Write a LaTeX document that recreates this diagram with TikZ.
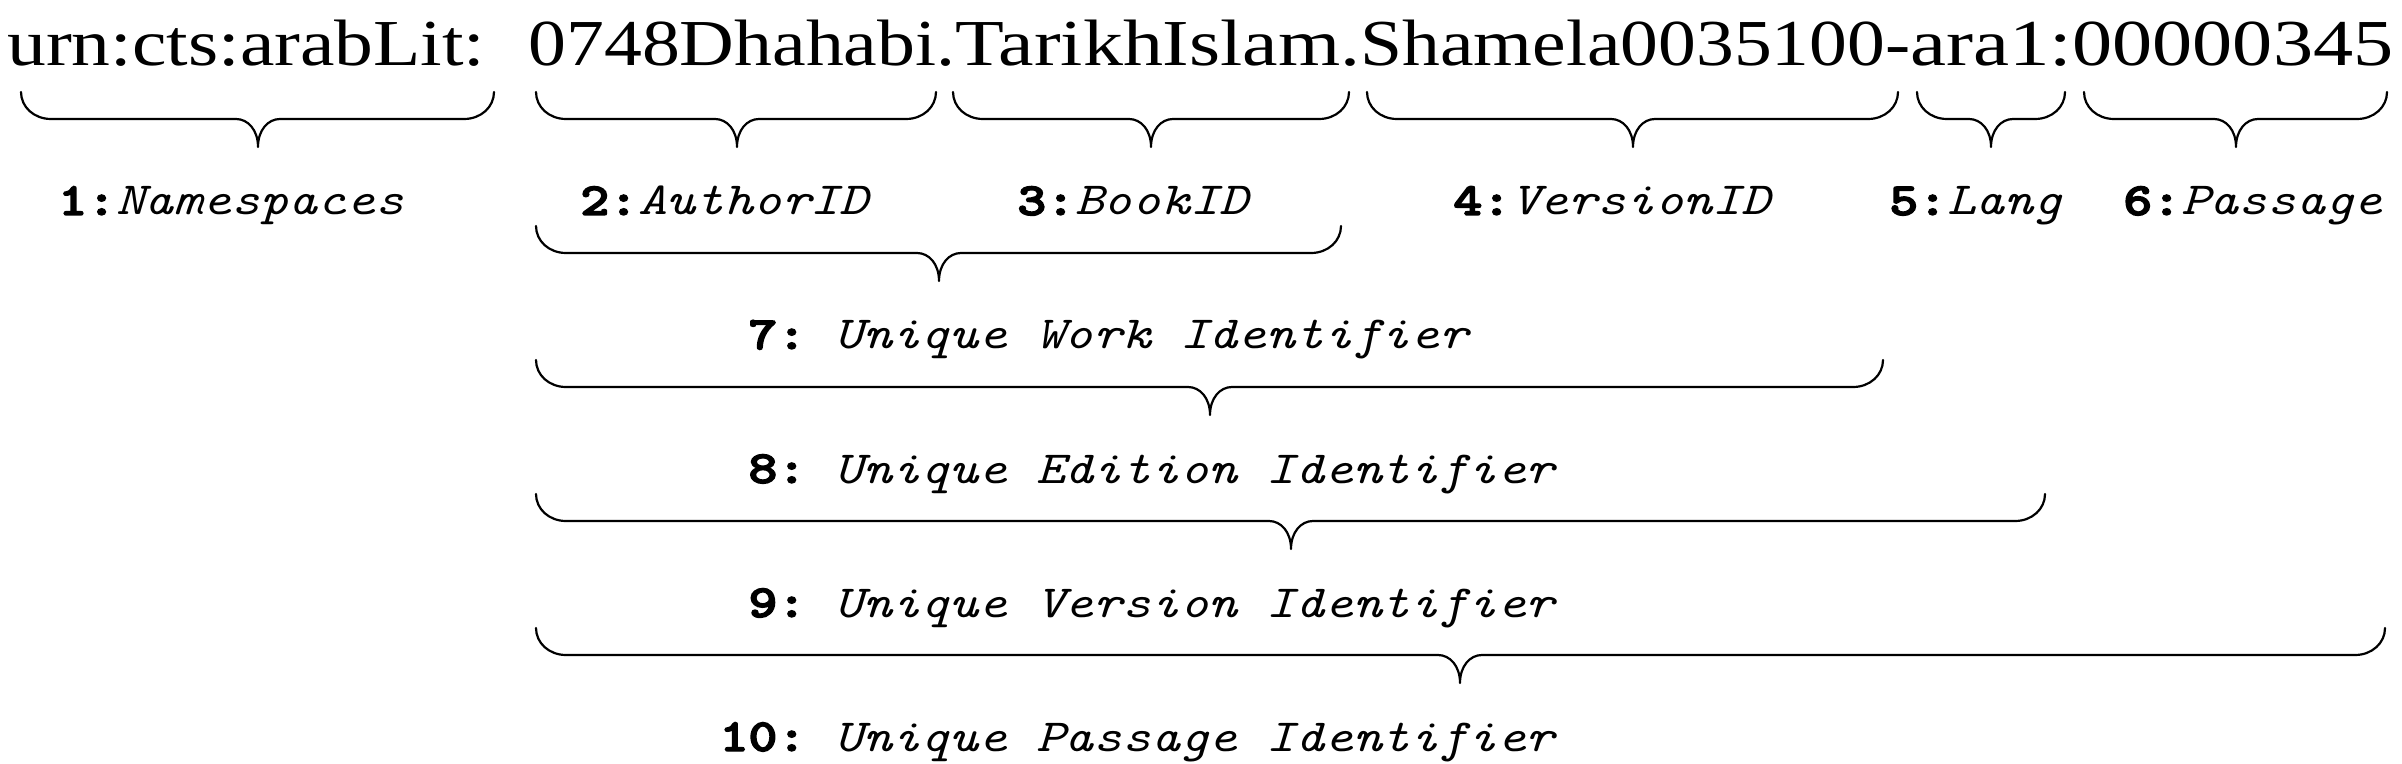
\documentclass[tikz,border=0pt]{standalone}
\usepackage{fontspec}
\usepackage{graphicx}
\setmainfont{Liberation Serif}
\newfontface\ttboldface{lmmonolt10-bold.otf}[FakeBold=3]
% #1 left x, #2 right x, #3 top y, #4 tip x  (units: px of the reference)
\newcommand\drawbrace[4]{%
  \draw[bracestyle] (#1,#3) .. controls (#1,#3+15) and (#1+13,#3+27) .. (#1+30,#3+27)
    -- (#4-22,#3+27) .. controls (#4-10,#3+27) and (#4,#3+38) .. (#4,#3+55)
    .. controls (#4,#3+38) and (#4+10,#3+27) .. (#4+22,#3+27)
    -- (#2-30,#3+27) .. controls (#2-13,#3+27) and (#2,#3+15) .. (#2,#3);}
\newcommand\segtext[2]{\resizebox{#1pt}{\height}{#2}}
\newcommand\labtext[1]{\scalebox{1.193}[1]{#1}}
\newcommand\bnum[1]{{\ttboldface #1}}
\begin{document}
\begin{tikzpicture}[x=0.5pt,y=-0.5pt,
  bracestyle/.style={line width=1.1pt,line join=round,line cap=round},
  titletext/.style={anchor=base west,inner sep=0pt,font=\fontsize{32.8}{36}\selectfont},
  lab/.style={anchor=base west,inner sep=0pt,font=\fontsize{23}{27}\selectfont\ttfamily}]
\useasboundingbox (0,0) rectangle (2402,764);
% title segments
\node[titletext] (t1) at (7,66)    {\segtext{239}{urn:cts:arabLit:}};
\node[titletext] (t2) at (528,66)  {\segtext{213.5}{0748Dhahabi.}};
\node[titletext] (t3) at (955,66)  {\segtext{202.5}{TarikhIslam.}};
\node[titletext] (t4) at (1360,66) {\segtext{275}{Shamela0035100-}};
\node[titletext] (t5) at (1910,66) {\segtext{81}{ara1:}};
\node[titletext] (t6) at (2072,66) {\segtext{160.5}{00000345}};
% first-level braces
\drawbrace{21}{494}{92}{258}
\drawbrace{536}{936}{92}{737}
\drawbrace{953}{1349}{92}{1151}
\drawbrace{1367}{1898}{92}{1633}
\drawbrace{1917}{2065}{92}{1991}
\drawbrace{2084}{2387}{92}{2236}
% first-level labels
\node[lab] (l1) at (58,215)   {\labtext{\bnum{1:}\textit{Namespaces}}};
\node[lab] (l2) at (580,215)  {\labtext{\bnum{2:}\textit{AuthorID}}};
\node[lab] (l3) at (1017,215) {\labtext{\bnum{3:}\textit{BookID}}};
\node[lab] (l4) at (1453,215) {\labtext{\bnum{4:}\textit{VersionID}}};
\node[lab] (l5) at (1889,215) {\labtext{\bnum{5:}\textit{Lang}}};
\node[lab] (l6) at (2123,215) {\labtext{\bnum{6:}\textit{Passage}}};
% nested braces and labels
\drawbrace{536}{1341}{226}{939}
\node[lab] (l7) at (834,349) {\labtext{\llap{\bnum{7:}\ }\textit{Unique Work Identifier}}};
\drawbrace{536}{1883}{360}{1210}
\node[lab] (l8) at (834,483) {\labtext{\llap{\bnum{8:}\ }\textit{Unique Edition Identifier}}};
\drawbrace{536}{2045}{494}{1291}
\node[lab] (l9) at (834,617) {\labtext{\llap{\bnum{9:}\ }\textit{Unique Version Identifier}}};
\drawbrace{536}{2385}{628}{1460}
\node[lab] (l10) at (834,751) {\labtext{\llap{\bnum{10:}\ }\textit{Unique Passage Identifier}}};
\end{tikzpicture}
\end{document}
